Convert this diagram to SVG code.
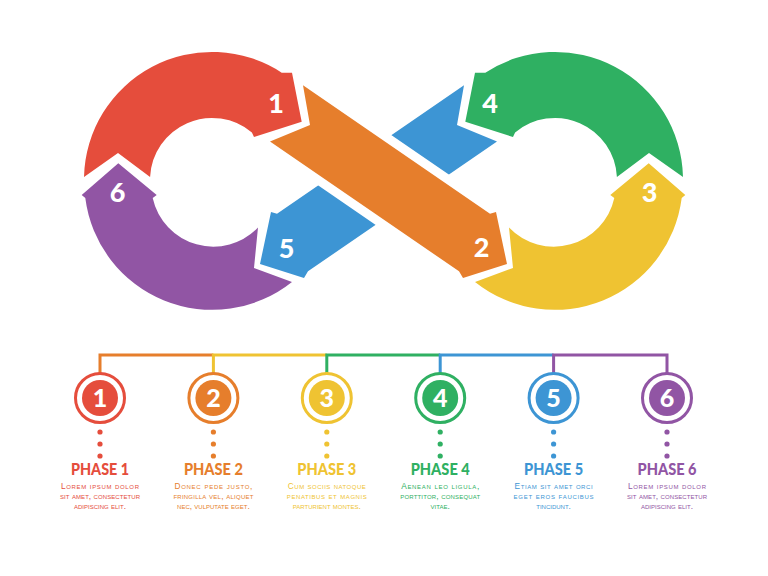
<svg xmlns="http://www.w3.org/2000/svg" width="768" height="576" viewBox="0 0 768 576">
<style>
.num{font-family:Lato,"Open Sans","Liberation Sans",sans-serif;font-weight:900;font-size:27px;fill:#fff;text-anchor:middle}
.cnum{font-family:Lato,"Open Sans","Liberation Sans",sans-serif;font-weight:900;font-size:25px;fill:#fff;text-anchor:middle}
.ttl{font-family:Lato,"Open Sans","Liberation Sans",sans-serif;font-weight:900;font-size:16.5px;text-anchor:middle}
.d{font-family:"Liberation Sans",Arial,sans-serif;font-size:8.3px;font-variant:small-caps;text-anchor:middle}
.ring{fill:#fff;stroke-width:3}
.cn{fill:none;stroke-width:3}
.red{fill:#e54d3c}.org{fill:#e67e2c}.yel{fill:#efc332}.grn{fill:#2fb062}.blu{fill:#3d95d4}.pur{fill:#9155a4}
.sred{stroke:#e54d3c}.sorg{stroke:#e67e2c}.syel{stroke:#efc332}.sgrn{stroke:#2fb062}.sblu{stroke:#3d95d4}.spur{stroke:#9155a4}
</style>
<rect width="768" height="576" fill="#fff"/>

<!-- infinity loop -->
<g id="seg5">
  <path class="blu" transform="matrix(-1 0 0 1 767 0)" d="M303,85.3 L490,213.7 L496,212 L507,264 L463,278 L459,271.3 L270,141.4 L310,125 Z"/>
  <text class="num" x="286.5" y="257.5">5</text>
</g>
<g id="seg2">
  <path class="org" stroke="#fff" stroke-width="18" stroke-linejoin="round" paint-order="stroke" d="M303,85.3 L490,213.7 L496,212 L507,264 L463,278 L459,271.3 L270,141.4 L310,125 Z"/>
  <text class="num" x="481.5" y="257">2</text>
</g>
<g id="seg1">
  <path class="red" d="M84,177 A128 128 0 0 1 281.7,72.65 L292,72.7 L301.7,121.7 L254,137 L251.9,132.5 A62 62 0 0 0 150.07,177 L118,153 Z"/>
  <text class="num" x="276" y="113">1</text>
</g>
<g id="seg4">
  <path class="grn" transform="matrix(-1 0 0 1 767 0)" d="M84,177 A128 128 0 0 1 281.7,72.65 L292,72.7 L301.7,121.7 L254,137 L251.9,132.5 A62 62 0 0 0 150.07,177 L118,153 Z"/>
  <text class="num" x="490" y="113">4</text>
</g>
<g id="seg6">
  <path class="pur" d="M118.3,163.3 L81.7,195 L85.3,198 A128 128 0 0 0 292,282 L254,268 L258,227.5 A62 62 0 0 1 152.7,198 L156.7,195 Z"/>
  <text class="num" x="117.5" y="201.5">6</text>
</g>
<g id="seg3">
  <path class="yel" transform="matrix(-1 0 0 1 767 0)" d="M118.3,163.3 L81.7,195 L85.3,198 A128 128 0 0 0 292,282 L254,268 L258,227.5 A62 62 0 0 1 152.7,198 L156.7,195 Z"/>
  <text class="num" x="649.5" y="201.5">3</text>
</g>

<!-- connectors -->
<g id="connectors">
  <polyline class="cn sorg" points="100,373 100,355 213.4,355"/>
  <polyline class="cn syel" points="213.4,373 213.4,355 326.8,355"/>
  <polyline class="cn sgrn" points="326.8,373 326.8,355 440.2,355"/>
  <polyline class="cn sblu" points="440.2,373 440.2,355 553.6,355"/>
  <polyline class="cn spur" points="553.6,373 553.6,355 667,355 667,373"/>
</g>

<!-- phases -->
<g id="phase1">
  <circle class="ring sred" cx="100" cy="398" r="24.5"/>
  <circle class="red" cx="100" cy="398" r="18"/>
  <text class="cnum" x="100" y="407">1</text>
  <circle class="red" cx="100" cy="432" r="2.6"/><circle class="red" cx="100" cy="444" r="2.6"/><circle class="red" cx="100" cy="456" r="2.6"/>
  <text class="ttl red" x="100" y="475" textLength="58" lengthAdjust="spacingAndGlyphs">PHASE 1</text>
  <text class="d red" x="100" y="489" textLength="78" lengthAdjust="spacing">Lorem ipsum dolor</text>
  <text class="d red" x="100" y="499" textLength="80" lengthAdjust="spacing">sit amet, consectetur</text>
  <text class="d red" x="100" y="509">adipiscing elit.</text>
</g>
<g id="phase2">
  <circle class="ring sorg" cx="213.4" cy="398" r="24.5"/>
  <circle class="org" cx="213.4" cy="398" r="18"/>
  <text class="cnum" x="213.4" y="407">2</text>
  <circle class="org" cx="213.4" cy="432" r="2.6"/><circle class="org" cx="213.4" cy="444" r="2.6"/><circle class="org" cx="213.4" cy="456" r="2.6"/>
  <text class="ttl org" x="213.4" y="475" textLength="59" lengthAdjust="spacingAndGlyphs">PHASE 2</text>
  <text class="d org" x="213.4" y="489" textLength="78" lengthAdjust="spacing">Donec pede justo,</text>
  <text class="d org" x="213.4" y="499" textLength="80" lengthAdjust="spacing">fringilla vel, aliquet</text>
  <text class="d org" x="213.4" y="509">nec, vulputate eget.</text>
</g>
<g id="phase3">
  <circle class="ring syel" cx="326.8" cy="398" r="24.5"/>
  <circle class="yel" cx="326.8" cy="398" r="18"/>
  <text class="cnum" x="326.8" y="407">3</text>
  <circle class="yel" cx="326.8" cy="432" r="2.6"/><circle class="yel" cx="326.8" cy="444" r="2.6"/><circle class="yel" cx="326.8" cy="456" r="2.6"/>
  <text class="ttl yel" x="326.8" y="475" textLength="59" lengthAdjust="spacingAndGlyphs">PHASE 3</text>
  <text class="d yel" x="326.8" y="489" textLength="78" lengthAdjust="spacing">Cum sociis natoque</text>
  <text class="d yel" x="326.8" y="499" textLength="80" lengthAdjust="spacing">penatibus et magnis</text>
  <text class="d yel" x="326.8" y="509">parturient montes.</text>
</g>
<g id="phase4">
  <circle class="ring sgrn" cx="440.2" cy="398" r="24.5"/>
  <circle class="grn" cx="440.2" cy="398" r="18"/>
  <text class="cnum" x="440.2" y="407">4</text>
  <circle class="grn" cx="440.2" cy="432" r="2.6"/><circle class="grn" cx="440.2" cy="444" r="2.6"/><circle class="grn" cx="440.2" cy="456" r="2.6"/>
  <text class="ttl grn" x="440.2" y="475" textLength="59" lengthAdjust="spacingAndGlyphs">PHASE 4</text>
  <text class="d grn" x="440.2" y="489" textLength="78" lengthAdjust="spacing">Aenean leo ligula,</text>
  <text class="d grn" x="440.2" y="499" textLength="80" lengthAdjust="spacing">porttitor, consequat</text>
  <text class="d grn" x="440.2" y="509">vitae.</text>
</g>
<g id="phase5">
  <circle class="ring sblu" cx="553.6" cy="398" r="24.5"/>
  <circle class="blu" cx="553.6" cy="398" r="18"/>
  <text class="cnum" x="553.6" y="407">5</text>
  <circle class="blu" cx="553.6" cy="432" r="2.6"/><circle class="blu" cx="553.6" cy="444" r="2.6"/><circle class="blu" cx="553.6" cy="456" r="2.6"/>
  <text class="ttl blu" x="553.6" y="475" textLength="59" lengthAdjust="spacingAndGlyphs">PHASE 5</text>
  <text class="d blu" x="553.6" y="489" textLength="78" lengthAdjust="spacing">Etiam sit amet orci</text>
  <text class="d blu" x="553.6" y="499" textLength="80" lengthAdjust="spacing">eget eros faucibus</text>
  <text class="d blu" x="553.6" y="509">tincidunt.</text>
</g>
<g id="phase6">
  <circle class="ring spur" cx="667" cy="398" r="24.5"/>
  <circle class="pur" cx="667" cy="398" r="18"/>
  <text class="cnum" x="667" y="407">6</text>
  <circle class="pur" cx="667" cy="432" r="2.6"/><circle class="pur" cx="667" cy="444" r="2.6"/><circle class="pur" cx="667" cy="456" r="2.6"/>
  <text class="ttl pur" x="667" y="475" textLength="59" lengthAdjust="spacingAndGlyphs">PHASE 6</text>
  <text class="d pur" x="667" y="489" textLength="78" lengthAdjust="spacing">Lorem ipsum dolor</text>
  <text class="d pur" x="667" y="499" textLength="80" lengthAdjust="spacing">sit amet, consectetur</text>
  <text class="d pur" x="667" y="509">adipiscing elit.</text>
</g>
</svg>
